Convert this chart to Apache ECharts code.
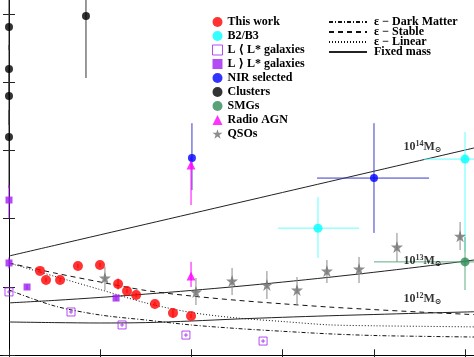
<!DOCTYPE html>
<html><head><meta charset="utf-8">
<script src="https://cdn.jsdelivr.net/npm/echarts@6.0.0/dist/echarts.min.js"></script>
<style>html,body{margin:0;padding:0;background:#fff}#c{width:474px;height:357px}</style>
</head><body><div id="c"></div>
<script>
// ---------- axis ranges / ticks ----------
const xTicks = [0, 0.5, 1, 1.5, 2, 2.5];
const yTicks = [0, 5, 10, 15, 20, 25];
const X_MIN = -0.0548, X_MAX = 2.5548;
const Y_MIN = -0.2015, Y_MAX = 26.245;

// ---------- observational data [z, r0] ----------
const thisWork = [[0.170,6.18],[0.203,5.51],[0.280,5.51],[0.378,6.54],[0.499,6.61],[0.598,5.22],[0.647,4.71],[0.697,4.41],[0.800,3.75],[0.899,3.09],[0.998,2.88]];
const thisWorkErr = [0.15,0.15,0.15,0.15,0.15,0.40,0.15,0.15,0.15,0.33,0.15];

const b2b3 = [[1.694,9.31],[2.500,14.37]];
const b2b3YErr = [[7.13,11.59],[7.57,16.36]];
const b2b3XErr = [[1.475,1.919],[2.275,2.65]];

const lowL = [[0,4.64],[0.340,3.17],[0.620,2.22],[0.970,1.48],[1.393,1.04]];

const highL = [[0,11.37],[0,6.76],[0.099,5.00],[0.587,4.19]];
const highLYErr = [[10.06,12.47],[6.36,7.16],[4.8,5.2],[3.99,4.39]];

const nir = [[1.003,14.45],[2.001,12.98]];
const nirYErr = [[12.1,17.0],[8.96,17.0]];
const nirXErr = [[1.003,1.003],[1.689,2.303]];

const clusters = [[0,24.05],[0,20.97],[0,18.99],[0,15.99],[0.422,24.85]];
const clustersYErr = [[22.36,26.5],[19.07,22.73],[16.87,20.9],[12.25,17.97],[20.31,27.0]];

const smgs = [[2.500,6.84]];
const smgsYErr = [[4.78,8.67]];
const smgsXErr = [[2.001,2.65]];

const radioAgn = [[0.998,13.94],[0.998,5.81]];
const radioAgnYErr = [[11.0,14.5],[5.0,6.84]];

const qsos = [[0.526,5.66],[1.025,4.63],[1.223,5.44],[1.414,5.15],[1.579,4.78],[1.743,6.17],[1.919,6.32],[2.127,7.93],[2.473,8.72]];
const qsosYErr = [[4.78,6.47],[3.68,5.66],[4.41,6.39],[4.12,6.17],[3.68,5.73],[5.29,6.98],[5.29,7.20],[6.84,8.96],[7.71,9.76]];

// ---------- model curves ----------
const zGrid = [0,0.25,0.5,0.75,1.0,1.25,1.5,1.75,2.0,2.25,2.5,2.6];
const mass14 = [7.271,8.047,8.823,9.599,10.375,11.151,11.927,12.703,13.479,14.255,15.031,15.342];
const mass13 = [3.835,4.02,4.237,4.48,4.748,5.04,5.36,5.705,6.076,6.471,6.892,7.067];
const mass12 = [2.436,2.392,2.363,2.392,2.509,2.656,2.78,2.89,2.985,3.08,3.168,3.205];
const epsStable = [6.758,6.026,5.366,4.744,4.34,4.026,3.769,3.535,3.344,3.168,3.007,2.949];
const epsLinear = [6.758,5.78,4.81,3.835,3.132,2.729,2.473,2.23,2.158,2.121,2.084,2.07];
const epsDM = [4.78,3.608,2.949,2.582,2.216,1.96,1.755,1.571,1.447,1.388,1.344,1.33];

const massLabels = ['14','13','12'];

// ---------- styling ----------
const FONT = '"Liberation Serif","DejaVu Serif",serif';
const STAR = 'path://M50,0 L61.2,34.5 L97.6,34.5 L68.2,55.9 L79.4,90.5 L50,69.1 L20.6,90.5 L31.8,55.9 L2.4,34.5 L38.8,34.5 Z';
const OPEN_SQ = 'path://M0,0 L10,0 L10,10 L0,10 Z M5,2.5 L5,7.5 M2.5,5 L7.5,5';
const C = {red:'#ff0000', cyan:'#00ffff', purple:'#a020f0', blue:'#0000ff', black:'#000000', green:'#2e8b57', magenta:'#ff00ff', gray:'#707070'};

function pair(vals){ return zGrid.map((z,k)=>[z, vals[k]]); }

function errData(pts, yErr, xErr){
  return pts.map((p,i)=>{
    const ye = yErr ? yErr[i] : [p[1],p[1]];
    const xe = xErr ? xErr[i] : [p[0],p[0]];
    return [p[0], p[1], ye[0], ye[1], xe[0], xe[1]];
  });
}
function errSeries(data, color, width){
  return {
    type:'custom', z:3, silent:true, encode:{x:0,y:1}, data,
    renderItem(params, api){
      const x = api.value(0), y = api.value(1);
      const ch = [];
      const a = api.coord([x, api.value(2)]), b = api.coord([x, api.value(3)]);
      if (Math.abs(a[1]-b[1]) > 0.5) ch.push({type:'line', shape:{x1:a[0],y1:a[1],x2:b[0],y2:b[1]}, style:{stroke:color, lineWidth:width}});
      const c = api.coord([api.value(4), y]), d = api.coord([api.value(5), y]);
      if (Math.abs(c[0]-d[0]) > 0.5) ch.push({type:'line', shape:{x1:c[0],y1:c[1],x2:d[0],y2:d[1]}, style:{stroke:color, lineWidth:width}});
      return {type:'group', children:ch};
    }
  };
}
function lineSeries(name, vals, type, color){
  return {name, type:'line', data: pair(vals), symbol:'none', showSymbol:false, smooth:0.3, z:2, silent:true,
    lineStyle:{color, width:1, type}, itemStyle:{color}};
}
function scat(name, data, symbol, size, color, extra){
  return Object.assign({name, type:'scatter', data, symbol, symbolSize:size, z:4, silent:true,
    itemStyle:{color}}, extra||{});
}

const axisCommon = {
  type:'value', axisLabel:{show:false}, splitLine:{show:false},
  axisLine:{show:true, lineStyle:{color:'#000', width:1}},
};
const xAx = (pos)=>Object.assign({}, axisCommon, {position:pos, min:X_MIN, max:X_MAX,
  axisTick:{show:true, inside:true, length:6, customValues:xTicks, lineStyle:{color:'#222'}}});
const yAx = (pos)=>Object.assign({}, axisCommon, {position:pos, min:Y_MIN, max:Y_MAX,
  axisTick:{show:true, inside:true, length:6, customValues:yTicks, lineStyle:{color:'#222'}}});

const textBase = {fontFamily:FONT, fontWeight:'bold', fontSize:12, color:'#000'};

const labelIdx = 9;
const massLabelSeries = {
  type:'scatter', z:5, silent:true, symbolSize:0,
  data:[
    {value:[zGrid[labelIdx], mass14[labelIdx]], label:{offset:[-16,-14]}, t:massLabels[0]},
    {value:[zGrid[labelIdx], mass13[labelIdx]], label:{offset:[-16,-6]}, t:massLabels[1]},
    {value:[zGrid[labelIdx], mass12[labelIdx]], label:{offset:[-16,-14]}, t:massLabels[2]}
  ],
  label:{show:true, position:'right', distance:0, align:'left', verticalAlign:'middle',
    formatter:(p)=>'{a|10}{b|'+p.data.t+'}{a|M}{c|\u2299}',
    rich:{
      a:Object.assign({}, textBase, {fontSize:12, lineHeight:14}),
      b:Object.assign({}, textBase, {fontSize:8, lineHeight:8, verticalAlign:'top'}),
      c:Object.assign({}, textBase, {fontSize:8, lineHeight:8, verticalAlign:'bottom'})
    }}
};

const option = {
  animation:false,
  backgroundColor:'#fff',
  grid:{left:-1, right:-1, top:-3, bottom:-1, containLabel:false, outerBoundsMode:'none'},
  xAxis:[xAx('bottom'), xAx('top')],
  yAxis:[yAx('left'), yAx('right')],
  legend:[
    {
      orient:'vertical', left:212, top:16, padding:0, itemWidth:10, itemHeight:10, itemGap:2,
      selectedMode:false, textStyle:Object.assign({}, textBase),
      data:[
        {name:'This work', icon:'circle', itemStyle:{color:C.red}},
        {name:'B2/B3', icon:'circle', itemStyle:{color:C.cyan}},
        {name:'L \u27e8 L* galaxies', icon:'rect', itemStyle:{color:'#fff', borderColor:C.purple, borderWidth:1}},
        {name:'L \u27e9 L* galaxies', icon:'rect', itemStyle:{color:C.purple}},
        {name:'NIR selected', icon:'circle', itemStyle:{color:C.blue}},
        {name:'Clusters', icon:'circle', itemStyle:{color:C.black}},
        {name:'SMGs', icon:'circle', itemStyle:{color:C.green}},
        {name:'Radio AGN', icon:'triangle', itemStyle:{color:C.magenta}},
        {name:'QSOs', icon:STAR, itemStyle:{color:C.gray}}
      ]
    },
    {
      orient:'vertical', left:328, top:16, padding:0, itemWidth:38, itemHeight:8, itemGap:-2,
      selectedMode:false, itemStyle:{opacity:0},
      textStyle:Object.assign({}, textBase, {padding:[0,0,0,2]}),
      data:['\u03b5 \u2212 Dark Matter','\u03b5 \u2212 Stable','\u03b5 \u2212 Linear','Fixed mass']
    }
  ],
  series:[
    lineSeries('\u03b5 \u2212 Dark Matter', epsDM, [4,2,1,2], '#111'),
    lineSeries('\u03b5 \u2212 Stable', epsStable, [5,4], '#111'),
    lineSeries('\u03b5 \u2212 Linear', epsLinear, [1,2], '#111'),
    lineSeries('Fixed mass', mass14, 'solid', '#222'),
    lineSeries('Fixed mass', mass13, 'solid', '#222'),
    lineSeries('Fixed mass', mass12, 'solid', '#222'),

    errSeries(errData(clusters, clustersYErr), '#333', 1),
    errSeries(errData(b2b3, b2b3YErr, b2b3XErr), '#66ffff', 1),
    errSeries(errData(nir, nirYErr, nirXErr), '#3a3ac8', 1),
    errSeries(errData(radioAgn, radioAgnYErr), C.magenta, 1),
    errSeries(errData(smgs, smgsYErr, smgsXErr), '#5fae80', 1),
    errSeries(errData(qsos, qsosYErr), '#8a8a8a', 1),
    errSeries(errData(highL, highLYErr), C.purple, 1),
    errSeries(errData(thisWork, thisWork.map((p,i)=>[p[1]-thisWorkErr[i], p[1]+thisWorkErr[i]])), C.red, 1),

    scat('Clusters', clusters, 'circle', 8, C.black),
    scat('B2/B3', b2b3, 'circle', 9, C.cyan),
    scat('NIR selected', nir, 'circle', 8, C.blue),
    scat('Radio AGN', radioAgn, 'triangle', 9, C.magenta),
    scat('SMGs', smgs, 'circle', 9, C.green),
    scat('QSOs', qsos, STAR, 12, C.gray),
    scat('L \u27e8 L* galaxies', lowL, OPEN_SQ, 8, C.purple, {itemStyle:{color:'rgba(255,255,255,0)', borderColor:C.purple, borderWidth:1}}),
    scat('L \u27e9 L* galaxies', highL, 'rect', 7, C.purple),
    scat('This work', thisWork, 'circle', 10, C.red),
    massLabelSeries
  ]
};
const chart = echarts.init(document.getElementById('c'), null, {renderer:'canvas'});
chart.setOption(option);
</script></body></html>
